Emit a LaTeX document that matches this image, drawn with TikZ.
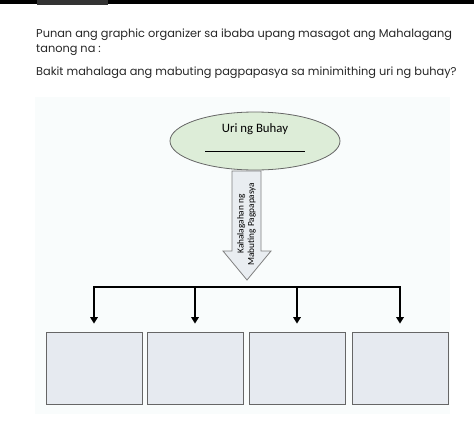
\documentclass[tikz,border=0pt]{standalone}
\usepackage{fontspec}
\setmainfont{Poppins}
\newfontfamily\carlito{Carlito}
\usetikzlibrary{arrows.meta,positioning,shapes.geometric}
\definecolor{panelbg}{HTML}{F9FCFC}
\definecolor{topicfill}{HTML}{DDEDD8}
\definecolor{boxfill}{HTML}{E6EAF0}
\definecolor{arrowfill}{HTML}{E9EDF1}

\begin{document}
\begin{tikzpicture}[x=1pt, y=-1pt,
    heading/.style={anchor=base west, inner sep=0pt, text=black!85,
      font=\fontsize{11.35}{13}\selectfont},
    topic/.style={
      ellipse, draw=black!60, fill=topicfill, thick,
      minimum width=170pt, minimum height=58pt, inner sep=0pt
    },
    answer/.style={
      rectangle, draw=black!60, fill=boxfill, thick,
      minimum width=96pt, minimum height=72pt, inner sep=0pt
    },
    blockarrow/.style={draw=black!50, fill=arrowfill, thick, line join=miter},
    branch/.style={line width=2pt, line cap=rect},
    drop/.style={-{Triangle[length=6.5pt, width=7.5pt]}, line width=2pt}
  ]
  \useasboundingbox (0,0) rectangle (474,424);
  % top bar and panel
  \fill[black] (0,0) rectangle (474,4);
  \fill[black!80] (37,0) rectangle (108,5);
  \fill[panelbg] (35,97) rectangle (450,414);
  % heading text
  \node[heading] (q1) at (36,37) {Punan ang graphic organizer sa ibaba upang masagot ang Mahalagang};
  \node[heading] (q2) at (36,52) {tanong na :};
  \node[heading] (q3) at (36,75) {Bakit mahalaga ang mabuting pagpapasya sa minimithing uri ng buhay?};
  % topic ellipse
  \node[topic] (topic) at (255,141) {};
  \node[font=\carlito\fontsize{12.8}{14}\selectfont, inner sep=0pt] (title) at (255,129) {Uri ng Buhay};
  \draw[thin] (205,151) -- (305,151);
  % block arrow
  \coordinate (tip) at (247,280);
  \draw[blockarrow] (232,171) -- (261,171) -- (261,251) -- (271,251)
    -- (tip) -- (223,251) -- (232,251) -- cycle;
  \node[rotate=90, align=center, inner sep=0pt,
    font=\carlito\fontsize{9.3}{10.5}\selectfont] (why) at (246.5,224)
    {Kahalagahan ng\\Mabuting Pagpapasya};
  % answer boxes
  \node[answer] (a1) at (94,368) {};
  \node[answer] (a2) at (195,368) {};
  \node[answer] (a3) at (297,368) {};
  \node[answer] (a4) at (400,368) {};
  % branches
  \coordinate (fork) at (247,287);
  \draw[branch] (a1.north |- fork) -- (a4.north |- fork);
  \foreach \target in {a1, a2, a3, a4}
    \draw[drop] (\target.north |- fork) -- ([yshift=8pt]\target.north);
\end{tikzpicture}
\end{document}
